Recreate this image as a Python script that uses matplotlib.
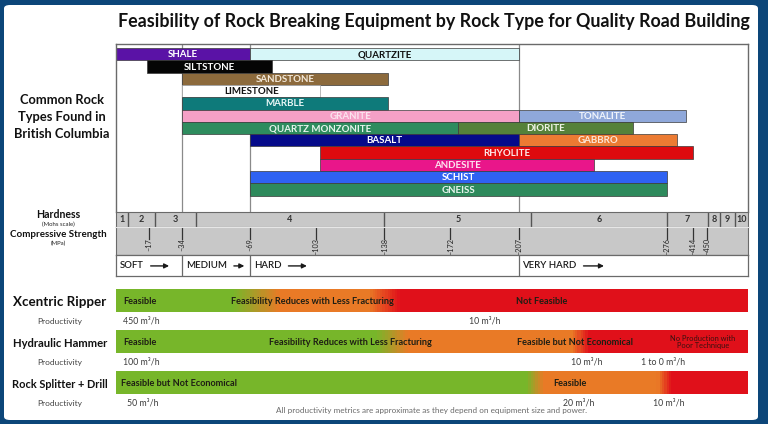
import numpy as np
import matplotlib
matplotlib.use("Agg")
import matplotlib.pyplot as plt
from matplotlib.patches import FancyBboxPatch, FancyArrowPatch
from matplotlib.colors import LinearSegmentedColormap
from matplotlib.transforms import ScaledTranslation

# ------------------------------------------------------------------ data
title = "Feasibility of Rock Breaking Equipment by Rock Type for Quality Road Building"

rock_names = ["SHALE", "QUARTZITE", "SILTSTONE", "SANDSTONE", "LIMESTONE", "MARBLE",
              "GRANITE", "TONALITE", "QUARTZ MONZONITE", "DIORITE", "BASALT", "GABBRO",
              "RHYOLITE", "ANDESITE", "SCHIST", "GNEISS"]
rock_rows = [0, 0, 1, 2, 3, 4, 5, 5, 6, 6, 7, 7, 8, 9, 10, 11]
rock_min_mpa = [0, 69, 16, 34, 34, 34, 34, 207, 34, 176, 69, 207, 105, 105, 69, 69]
rock_max_mpa = [69, 207, 80, 140, 105, 140, 207, 377, 176, 260, 207, 329, 414, 242, 276, 276]
rock_colors = ["#5A12A6", "#D6F6F8", "#050505", "#8C6A3C", "#FFFFFF", "#0E7A7A",
               "#F5A0C6", "#8FA8DA", "#2E8C5E", "#55813A", "#050A8A", "#EC7B33",
               "#DE0A0E", "#E9168A", "#2F62F2", "#2E8A5C"]
rock_text_colors = ["white", "#111111", "white", "#F3E9DA", "#111111", "#E8F6F6",
                    "#FBE3EE", "#F0F4FB", "#E6F4EC", "#EEF4E6", "white", "#FBE6D8",
                    "#FDE6E6", "#FDE4F0", "white", "#E6F4EC"]

grid_mpa = [34, 69, 207]

mohs_labels = ["1", "2", "3", "4", "5", "6", "7", "8", "9", "10"]
mohs_bounds_mpa = [0, 6, 20, 41, 138, 213, 276, 452, 498, 552, 600]

strength_ticks = [17, 34, 69, 103, 138, 172, 207, 276, 414, 450]

category_labels = ["SOFT", "MEDIUM", "HARD", "VERY HARD"]
category_start_mpa = [0, 34, 69, 207]
category_arrow_px = [24, 16, 24, 26]

equipment = ["Xcentric Ripper", "Hydraulic Hammer", "Rock Splitter + Drill"]
equipment_label_px = [93, 95, 96]
green, orange, red = "#77B62A", "#E97A26", "#E0101A"
eq_stops_mpa = [
    [0, 60, 84, 130, 146, 600],
    [0, 134, 150, 232, 240, 600],
    [0, 211, 219, 272, 306, 600],
]
eq_stop_colors = [
    [green, green, orange, orange, red, red],
    [green, green, orange, orange, red, red],
    [green, green, orange, orange, red, red],
]
eq_texts = [
    [("Feasible", 3.6), ("Feasibility Reduces with Less Fracturing", 59), ("Not Feasible", 205.5)],
    [("Feasible", 3.6), ("Feasibility Reduces with Less Fracturing", 78.5), ("Feasible but Not Economical", 206)],
    [("Feasible but Not Economical", 2.6), ("Feasible", 223)],
]
eq_note = ("No Production with\nPoor Technique", 440)
productivity = [
    [("450 m³/h", 3.6), ("10 m³/h", 181.5)],
    [("100 m³/h", 3.6), ("10 m³/h", 231.5), ("1 to 0 m³/h", 264)],
    [("50 m³/h", 5.6), ("20 m³/h", 227.5), ("10 m³/h", 269.5)],
]
footnote = "All productivity metrics are approximate as they depend on equipment size and power."

# ------------------------------------------------------------------ scale
anchor_mpa = np.array([0, 207, 276, 414, 450, 600], dtype=float)
anchor_pos = np.array([0, 402.5, 551, 577, 591, 632], dtype=float)


def fwd(x):
    return np.interp(x, anchor_mpa, anchor_pos)


def inv(p):
    return np.interp(p, anchor_pos, anchor_mpa)


def mid(a, b):
    return float(inv((fwd(a) + fwd(b)) / 2.0))


W, H = 768, 424
fig = plt.figure(figsize=(W / 100, H / 100), dpi=100)
fig.patch.set_facecolor("#0C4679")
fig.add_artist(FancyBboxPatch((4 / W, 1 - 420 / H), (758 - 4) / W, (420 - 5) / H,
                              boxstyle="round,pad=0,rounding_size=0.008",
                              transform=fig.transFigure, facecolor="white",
                              edgecolor="none", zorder=0))

FONT = "Lato"


def add_ax(x0, y0, x1, y1):
    ax = fig.add_axes([x0 / W, 1 - y1 / H, (x1 - x0) / W, (y1 - y0) / H])
    ax.set_xscale("function", functions=(fwd, inv))
    ax.set_xlim(0, 600)
    ax.set_xticks([])
    ax.set_yticks([])
    ax.patch.set_alpha(0)
    return ax


def ftext(px, py, s, **kw):
    return fig.text(px / W, 1 - py / H, s, **kw)


fit_list = []

# title
t_title = ftext(434, 22, title, ha="center", va="center", fontsize=14, fontweight="bold",
                family=FONT, color="#111111")
fit_list.append((t_title, 632))

# ------------------------------------------------------------------ rock chart
ax = add_ax(116, 44, 748, 212)
ax.set_ylim(12.82, -0.82)
for g in grid_mpa:
    ax.axvline(g, color="#8A8A8A", lw=0.9, zorder=0)
for s in ["top", "left", "right"]:
    ax.spines[s].set_color("#6A6A6A")
    ax.spines[s].set_linewidth(1.0)
ax.spines["bottom"].set_visible(False)
for name, row, lo, hi, c, tc in zip(rock_names, rock_rows, rock_min_mpa, rock_max_mpa,
                                    rock_colors, rock_text_colors):
    ec = "#A0A0A0" if c == "#FFFFFF" else "#3A3A3A"
    ax.barh(row, hi - lo, left=lo, height=1.0, color=c, edgecolor=ec, lw=0.5, zorder=2)
    ax.text(mid(lo, hi), row + 0.05, name, ha="center", va="center", fontsize=7.0,
            fontweight="bold", color=tc, family=FONT, zorder=3)

ftext(62, 117, "Common Rock\nTypes Found in\nBritish Columbia", ha="center", va="center",
      fontsize=9.3, fontweight="bold", family=FONT, linespacing=1.45, color="#111111")

# ------------------------------------------------------------------ Mohs strip
axm = add_ax(116, 212, 748, 227)
axm.set_ylim(0, 1)
axm.patch.set_alpha(1)
axm.set_facecolor("#C8C8C8")
for s in axm.spines.values():
    s.set_color("#6A6A6A")
    s.set_linewidth(0.8)
for b in mohs_bounds_mpa[1:-1]:
    axm.axvline(b, color="#555555", lw=1.0)
for i, lab in enumerate(mohs_labels):
    axm.text(mid(mohs_bounds_mpa[i], mohs_bounds_mpa[i + 1]), 0.5, lab, ha="center",
             va="center", fontsize=6.5, fontweight="bold", family=FONT, color="#333333")

ftext(58, 215, "Hardness", ha="center", va="center", fontsize=7.6, fontweight="bold",
      family=FONT, color="#111111")
ftext(58, 224.5, "(Mohs scale)", ha="center", va="center", fontsize=4.3, family=FONT,
      color="#222222")

# ------------------------------------------------------------------ strength strip
axs = add_ax(116, 227, 748, 255)
axs.set_ylim(1, 0)
axs.patch.set_alpha(1)
axs.set_facecolor("#C8C8C8")
for s in axs.spines.values():
    s.set_color("#6A6A6A")
    s.set_linewidth(0.8)
axs.spines["top"].set_color("#E6E6E6")
for t in strength_ticks:
    axs.plot([t, t], [0, 0.42], color="#333333", lw=0.9)
    axs.text(t, 0.40, "–" + str(t), rotation=90, ha="center", va="top", fontsize=5.3,
             family=FONT, color="#222222")

ftext(58, 235, "Compressive Strength", ha="center", va="center", fontsize=7.0,
      fontweight="bold", family=FONT, color="#111111")
ftext(58, 243.5, "(MPa)", ha="center", va="center", fontsize=4.3, family=FONT,
      color="#222222")

# ------------------------------------------------------------------ categories
axc = add_ax(116, 255, 748, 276)
axc.set_ylim(0, 1)
axc.patch.set_alpha(1)
axc.set_facecolor("white")
for s in axc.spines.values():
    s.set_color("#6A6A6A")
    s.set_linewidth(0.9)
for b in category_start_mpa[1:]:
    axc.axvline(b, color="#6A6A6A", lw=0.9)
cat_texts = []
for lab, st in zip(category_labels, category_start_mpa):
    t = axc.text(st, 0.48, lab, ha="left", va="center", fontsize=6.9, family=FONT,
                 color="#1A1A1A", fontweight="semibold",
                 transform=axc.transData + ScaledTranslation(4 / 100, 0, fig.dpi_scale_trans))
    cat_texts.append(t)

# ------------------------------------------------------------------ equipment
axe = add_ax(116, 280, 748, 419)
axe.set_ylim(2.88, -0.5)
for s in axe.spines.values():
    s.set_visible(False)
bar_h = 0.56
npos = 600
pos_edges = np.linspace(anchor_pos[0], anchor_pos[-1], npos + 1)
x_edges = inv(pos_edges)
pos_cent = (pos_edges[:-1] + pos_edges[1:]) / 2 / anchor_pos[-1]
for i, name in enumerate(equipment):
    stops = fwd(np.array(eq_stops_mpa[i], dtype=float)) / anchor_pos[-1]
    cmap = LinearSegmentedColormap.from_list("eq%d" % i, list(zip(stops, eq_stop_colors[i])))
    y_edges = np.array([i - bar_h / 2, i + bar_h / 2])
    axe.pcolormesh(x_edges, y_edges, pos_cent[None, :], cmap=cmap, vmin=0, vmax=1,
                   shading="flat", zorder=1)
    for s, x in eq_texts[i]:
        axe.text(x, i + 0.02, s, ha="left", va="center", fontsize=6.6, fontweight="bold",
                 family=FONT, color="#1E1E14", zorder=3)
    for s, x in productivity[i]:
        axe.text(x, i + 0.49, s, ha="left", va="center", fontsize=6.3, family=FONT,
                 color="#3A3A3A", zorder=3)

axe.text(eq_note[1], 1.0, eq_note[0], ha="center", va="center", fontsize=5.4,
         family=FONT, color="#3A1010", linespacing=1.0, zorder=3)

for i, name in enumerate(equipment):
    ypx = float(axe.transData.transform((1, i))[1])
    te = fig.text(60 / W, ypx / H - 1.5 / H, name, ha="center", va="center", fontsize=9.0,
                  fontweight="bold", family=FONT, color="#111111")
    fit_list.append((te, equipment_label_px[i]))
    fig.text(60 / W, ypx / H - 21 / H, "Productivity", ha="center", va="center",
             fontsize=6.0, family=FONT, color="#444444")

ftext(432, 410, footnote, ha="center", va="center", fontsize=5.9, family=FONT,
      color="#6A6A6A")

# fit chosen texts to their measured widths in the reference
fig.canvas.draw()
renderer = fig.canvas.get_renderer()
for t, target in fit_list:
    w = t.get_window_extent(renderer).width
    t.set_fontsize(t.get_fontsize() * target / w)

# arrows after category labels
fig.canvas.draw()
for t, L in zip(cat_texts, category_arrow_px):
    bb = t.get_window_extent(renderer)
    yc = (bb.y0 + bb.y1) / 2
    x0 = bb.x1 + 4
    fig.add_artist(FancyArrowPatch((x0, yc), (x0 + L, yc), transform=None,
                                   arrowstyle="-|>", mutation_scale=7, lw=1.0,
                                   color="#1A1A1A"))

fig.savefig("out.png", dpi=100, facecolor=fig.get_facecolor())
